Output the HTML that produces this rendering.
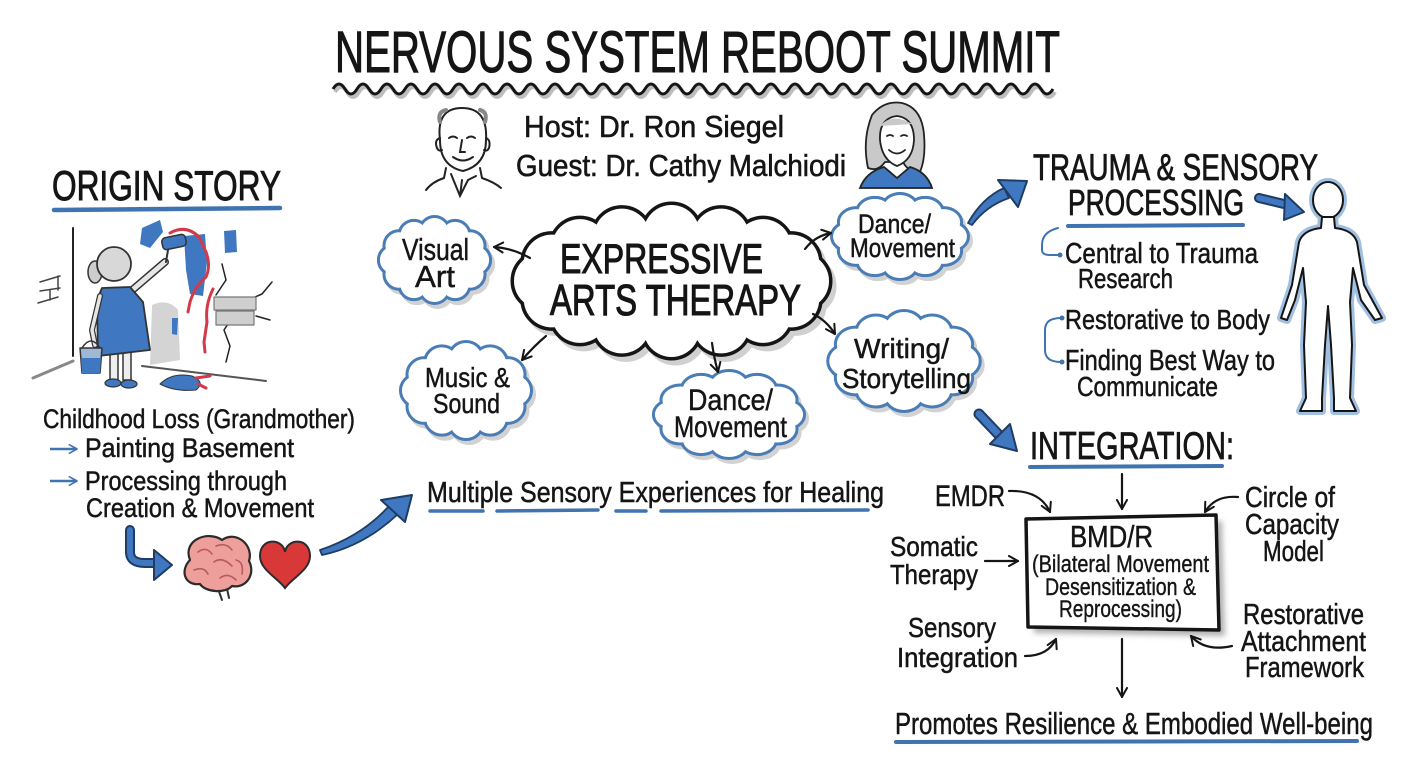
<!DOCTYPE html>
<html><head><meta charset="utf-8"><style>
html,body{margin:0;padding:0;background:#fff;}
svg{display:block;}
text{font-family:"Liberation Sans","DejaVu Sans",sans-serif;fill:#151515;}
</style></head><body>
<svg width="1408" height="768" viewBox="0 0 1408 768" xmlns="http://www.w3.org/2000/svg">
<defs>
<marker id="ah" viewBox="0 0 12 12" refX="10" refY="6" markerWidth="12" markerHeight="12" markerUnits="userSpaceOnUse" orient="auto"><path d="M1,1 L10,6 L1,11" fill="none" stroke="#151515" stroke-width="2" stroke-linecap="round" stroke-linejoin="round"/></marker>
<marker id="bh" viewBox="0 0 12 12" refX="10" refY="6" markerWidth="10" markerHeight="10" markerUnits="userSpaceOnUse" orient="auto"><path d="M1,1 L10,6 L1,11" fill="none" stroke="#3f74b0" stroke-width="2" stroke-linecap="round" stroke-linejoin="round"/></marker>
<filter id="bl" x="-10%" y="-10%" width="130%" height="130%"><feGaussianBlur stdDeviation="3"/></filter>
<g id="uc">
<circle vector-effect="non-scaling-stroke" cx="49" cy="0" r="16"/>
<circle vector-effect="non-scaling-stroke" cx="42.4" cy="17" r="16"/>
<circle vector-effect="non-scaling-stroke" cx="24.5" cy="29.4" r="16"/>
<circle vector-effect="non-scaling-stroke" cx="0" cy="34" r="16"/>
<circle vector-effect="non-scaling-stroke" cx="-24.5" cy="29.4" r="16"/>
<circle vector-effect="non-scaling-stroke" cx="-42.4" cy="17" r="16"/>
<circle vector-effect="non-scaling-stroke" cx="-49" cy="0" r="16"/>
<circle vector-effect="non-scaling-stroke" cx="-42.4" cy="-17" r="16"/>
<circle vector-effect="non-scaling-stroke" cx="-24.5" cy="-29.4" r="16"/>
<circle vector-effect="non-scaling-stroke" cx="0" cy="-34" r="16"/>
<circle vector-effect="non-scaling-stroke" cx="24.5" cy="-29.4" r="16"/>
<circle vector-effect="non-scaling-stroke" cx="42.4" cy="-17" r="16"/>
<ellipse vector-effect="non-scaling-stroke" rx="52" ry="38"/>
</g>
<g id="mc">
<circle cx="801" cy="281" r="28"/><circle cx="791.2" cy="299.4" r="28"/><circle cx="763.1" cy="314.9" r="28"/><circle cx="721.1" cy="325.4" r="28"/>
<circle cx="671.5" cy="329" r="28"/><circle cx="621.9" cy="325.4" r="28"/><circle cx="579.9" cy="314.9" r="28"/><circle cx="551.8" cy="299.4" r="28"/>
<circle cx="542" cy="281" r="28"/><circle cx="551.8" cy="262.6" r="28"/><circle cx="579.9" cy="247.1" r="28"/><circle cx="621.9" cy="236.6" r="28"/>
<circle cx="671.5" cy="233" r="28"/><circle cx="721.1" cy="236.6" r="28"/><circle cx="763.1" cy="247.1" r="28"/><circle cx="791.2" cy="262.6" r="28"/>
<ellipse cx="671.5" cy="281" rx="130" ry="50"/>
</g>
</defs>

<!-- Title -->
<text x="335" y="72" font-size="58" textLength="725" lengthAdjust="spacingAndGlyphs" stroke="#151515" stroke-width="1.1">NERVOUS SYSTEM REBOOT SUMMIT</text>
<path d="M335,92 q6,-10 12,0 t12,0 t12,0 t12,0 t12,0 t12,0 t12,0 t12,0 t12,0 t12,0 t12,0 t12,0 t12,0 t12,0 t12,0 t12,0 t12,0 t12,0 t12,0 t12,0 t12,0 t12,0 t12,0 t12,0 t12,0 t12,0 t12,0 t12,0 t12,0 t12,0 t12,0 t12,0 t12,0 t12,0 t12,0 t12,0 t12,0 t12,0 t12,0 t12,0 t12,0 t12,0 t12,0 t12,0 t12,0 t12,0 t12,0 t12,0 t12,0 t12,0 t12,0 t12,0 t12,0 t12,0 t12,0 t12,0 t12,0 t12,0 t12,0 t12,0" fill="none" stroke="#bdbdbd" stroke-width="4"/>
<path d="M333,89 q6,-10 12,0 t12,0 t12,0 t12,0 t12,0 t12,0 t12,0 t12,0 t12,0 t12,0 t12,0 t12,0 t12,0 t12,0 t12,0 t12,0 t12,0 t12,0 t12,0 t12,0 t12,0 t12,0 t12,0 t12,0 t12,0 t12,0 t12,0 t12,0 t12,0 t12,0 t12,0 t12,0 t12,0 t12,0 t12,0 t12,0 t12,0 t12,0 t12,0 t12,0 t12,0 t12,0 t12,0 t12,0 t12,0 t12,0 t12,0 t12,0 t12,0 t12,0 t12,0 t12,0 t12,0 t12,0 t12,0 t12,0 t12,0 t12,0 t12,0 t12,0" fill="none" stroke="#151515" stroke-width="3"/>

<!-- Man face -->
<g stroke="#222" stroke-width="2" fill="none" stroke-linecap="round">
<path d="M440,140 Q436,108 462,108 Q488,108 486,140 Q486,165 463,171 Q440,166 440,140 Z" fill="#fff"/>
<path d="M440,122 Q437,112 446,110" stroke="#888" stroke-width="4"/>
<path d="M485,122 Q488,112 480,110" stroke="#888" stroke-width="4"/>
<path d="M440,138 Q434,140 437,148 Q439,152 442,150"/>
<path d="M486,138 Q491,140 489,148 Q487,152 484,150"/>
<path d="M449,138 Q453,135 457,138 M467,138 Q471,135 475,138"/>
<path d="M462,140 L460,152 L465,152"/>
<path d="M453,157 Q463,164 473,157"/>
<path d="M446,168 L444,178 Q432,182 426,190 M480,168 L482,178 Q494,182 501,188"/>
<path d="M451,174 L460,196 L468,180 L476,176 M460,196 L462,180"/>
</g>

<!-- Woman face -->
<g stroke="#222" stroke-width="1.8" stroke-linecap="round">
<path d="M868,168 Q862,140 872,115 Q884,100 902,103 Q922,108 924,135 Q926,158 920,172 Q908,172 903,162 L885,162 Q878,172 868,168 Z" fill="#c9c9c9"/>
<path d="M880,140 Q879,118 897,116 Q914,118 914,140 Q913,160 897,166 Q882,160 880,140 Z" fill="#fff"/>
<path d="M880,126 Q892,112 912,124" fill="#c9c9c9" stroke="none"/>
<path d="M887,136 Q890,134 893,136 M901,136 Q904,134 907,136" fill="none"/>
<path d="M889,150 Q897,157 905,150" fill="none"/>
<path d="M860,188 Q866,172 884,167 L897,178 L910,167 Q927,172 932,188 Z" fill="#3f78c0"/>
</g>

<!-- Host / Guest -->
<text x="524" y="137" font-size="31" textLength="260" lengthAdjust="spacingAndGlyphs" stroke="#151515" stroke-width="0.6">Host: Dr. Ron Siegel</text>
<text x="516" y="176" font-size="31" textLength="330" lengthAdjust="spacingAndGlyphs" stroke="#151515" stroke-width="0.6">Guest: Dr. Cathy Malchiodi</text>

<!-- ORIGIN STORY -->
<text x="52" y="200" font-size="42" textLength="229" lengthAdjust="spacingAndGlyphs" stroke="#151515" stroke-width="0.9">ORIGIN STORY</text>
<path d="M54,210 L280,208" stroke="#3f74b0" stroke-width="4.5" stroke-linecap="round"/>

<!-- Girl illustration -->
<g stroke-linecap="round" stroke-linejoin="round">
<path d="M73,228 L73,356" stroke="#222" stroke-width="2"/>
<path d="M40,282 L60,276 M58,276 L58,290 M40,291 L60,288 M38,303 L58,297 M50,290 L50,300" stroke="#444" stroke-width="1.5" fill="none"/>
<path d="M33,378 L73,361" stroke="#888" stroke-width="3"/>
<path d="M142,366 L266,381" stroke="#555" stroke-width="2"/>
<path d="M152,305 Q168,298 178,310 L180,360 L150,365 Z" fill="#d4d4d4"/>
<path d="M142,228 L160,220 L163,232 L150,248 L140,244 Z" fill="#3f78c0"/>
<path d="M184,236 L205,234 L207,262 L203,296 L190,294 L186,270 Z" fill="#3f78c0"/>
<path d="M224,231 L236,230 L237,252 L225,253 Z" fill="#3f78c0"/>
<path d="M172,318 L178,318 L177,335 L172,334 Z" fill="#3f78c0"/>
<path d="M170,233 Q186,224 199,237 L206,252 Q211,266 206,277 L199,284 Q193,292 190,302 L188,312" fill="none" stroke="#d23a4a" stroke-width="3"/>
<path d="M213,289 Q205,305 207,322 L204,342 L205,352" fill="none" stroke="#d23a4a" stroke-width="3"/>
<path d="M222,264 L226,280 L216,295 M236,312 L224,330 L230,346 L226,362 M248,300 L262,294 L272,282 M256,316 L270,320" fill="none" stroke="#222" stroke-width="1.5"/>
<rect x="214" y="297" width="42" height="13" fill="#cfcfcf" stroke="#777" stroke-width="1.2"/>
<rect x="216" y="311" width="38" height="14" fill="#cfcfcf" stroke="#777" stroke-width="1.2"/>
<path d="M130,292 L165,262" stroke="#333" stroke-width="8"/>
<path d="M130,292 L165,262" stroke="#e6e6e6" stroke-width="5"/>
<path d="M166,262 L168,250" stroke="#333" stroke-width="2"/>
<rect x="162" y="236" width="24" height="12" rx="4" transform="rotate(-12 174 242)" fill="#3f78c0" stroke="#333" stroke-width="1.5"/>
<ellipse cx="95" cy="272" rx="7" ry="11" fill="#cdcdcd" stroke="#333" stroke-width="1.5"/>
<circle cx="114" cy="264" r="17" fill="#d8d8d8" stroke="#333" stroke-width="1.8"/>
<rect x="110" y="352" width="8" height="28" fill="#eee" stroke="#333" stroke-width="1.5"/>
<rect x="123" y="352" width="8" height="28" fill="#eee" stroke="#333" stroke-width="1.5"/>
<ellipse cx="113" cy="383" rx="8" ry="4" fill="#3f78c0" stroke="#333" stroke-width="1.2"/>
<ellipse cx="129" cy="384" rx="8" ry="4" fill="#3f78c0" stroke="#333" stroke-width="1.2"/>
<path d="M102,288 L130,287 L143,302 L150,350 L98,356 L97,300 Z" fill="#3f78c0" stroke="#333" stroke-width="1.8"/>
<path d="M100,296 L92,330 L95,345" fill="none" stroke="#333" stroke-width="6"/>
<path d="M100,296 L92,330 L95,345" fill="none" stroke="#e6e6e6" stroke-width="3.5"/>
<path d="M80,348 L102,348 L100,373 L82,373 Z" fill="#9fb8d6" stroke="#333" stroke-width="1.5"/>
<path d="M81,358 L101,358 L100,373 L82,373 Z" fill="#3f78c0"/>
<path d="M82,348 Q91,334 100,348" fill="none" stroke="#333" stroke-width="1.5"/>
<path d="M160,384 Q172,372 192,376 Q206,382 196,390 Q175,392 160,384 Z" fill="#3f78c0" stroke="#333" stroke-width="1"/>
<path d="M196,378 L210,376 M198,384 L206,388" stroke="#d23a4a" stroke-width="3"/>
</g>

<!-- Origin text -->
<text x="43" y="428" font-size="27" textLength="312" lengthAdjust="spacingAndGlyphs" stroke="#151515" stroke-width="0.5">Childhood Loss (Grandmother)</text>
<path d="M50,449 L77,449" stroke="#3f74b0" stroke-width="2.5" marker-end="url(#bh)"/>
<text x="85" y="457" font-size="27" textLength="209" lengthAdjust="spacingAndGlyphs" stroke="#151515" stroke-width="0.5">Painting Basement</text>
<path d="M50,481 L77,481" stroke="#3f74b0" stroke-width="2.5" marker-end="url(#bh)"/>
<text x="85" y="490" font-size="27" textLength="202" lengthAdjust="spacingAndGlyphs" stroke="#151515" stroke-width="0.5">Processing through</text>
<text x="86" y="517" font-size="27" textLength="228" lengthAdjust="spacingAndGlyphs" stroke="#151515" stroke-width="0.5">Creation &amp; Movement</text>

<!-- hooked blue arrow -->
<path d="M130,530 L130,552 Q130,563 145,563 L156,563" fill="none" stroke="#1f3c64" stroke-width="10" stroke-linecap="round"/>
<path d="M130,530 L130,552 Q130,563 145,563 L156,563" fill="none" stroke="#3f78c0" stroke-width="6" stroke-linecap="round"/>
<path d="M154,550 L172,565 L154,580 Z" fill="#3f78c0" stroke="#1f3c64" stroke-width="2" stroke-linejoin="round"/>

<!-- Brain -->
<g stroke-linecap="round" stroke-linejoin="round">
<path d="M217,586 L222,600 M226,584 L229,598" stroke="#333" stroke-width="2"/>
<path d="M190,560 C182,540 208,530 222,540 C236,530 254,545 249,561 C256,574 246,589 232,586 C225,594 205,592 200,584 C184,586 180,570 190,560 Z" fill="#ee9f9b" stroke="#2b2b2b" stroke-width="2.2"/>
<path d="M198,552 Q206,546 212,554 M216,546 Q226,542 232,550 M194,570 Q204,566 208,574 M214,562 Q222,556 232,566 M236,560 Q244,562 242,574 M220,578 Q228,572 236,580" fill="none" stroke="#b75b5b" stroke-width="1.6"/>
</g>
<!-- Heart -->
<path d="M285,552 C283,538 260,537 260,556 C260,570 278,578 285,588 C292,578 310,570 310,556 C310,537 287,538 285,552 Z" fill="#d93838" stroke="#2b2b2b" stroke-width="2"/>

<!-- blue arrow heart -> multiple -->
<path d="M320,550 Q362,536 389,506 L398,514 Q364,546 322,555 Z" fill="#3f78c0" stroke="#1f3c64" stroke-width="1.8" stroke-linejoin="round"/>
<path d="M381,500 L412,495 L405,522 Z" fill="#3f78c0" stroke="#1f3c64" stroke-width="2" stroke-linejoin="round"/>

<!-- Multiple Sensory text -->
<text x="427" y="502" font-size="29" textLength="457" lengthAdjust="spacingAndGlyphs" stroke="#151515" stroke-width="0.5">Multiple Sensory Experiences for Healing</text>
<g stroke="#3f74b0" stroke-width="3.5" stroke-linecap="round">
<path d="M430,511 L483,511 M497,511 L598,510 M616,511 L646,511 M661,511 L868,510"/>
</g>

<!-- Clouds -->
<use href="#mc" transform="translate(4,5)" fill="#d0d0d0" stroke="#d0d0d0" stroke-width="7"/>
<use href="#mc" fill="#fff" stroke="#151515" stroke-width="7"/>
<use href="#mc" fill="#fff" stroke="none"/>

<use href="#uc" transform="translate(437.5,264) scale(0.84,0.84)" fill="#d2d2d2" stroke="#d2d2d2" stroke-width="6"/>
<use href="#uc" transform="translate(434.5,260) scale(0.84,0.84)" fill="#fff" stroke="#4a7db6" stroke-width="6"/>
<use href="#uc" transform="translate(434.5,260) scale(0.84,0.84)" fill="#fff" stroke="none"/>

<use href="#uc" transform="translate(903,240.5) scale(1.03,0.83)" fill="#d2d2d2" stroke="#d2d2d2" stroke-width="6"/>
<use href="#uc" transform="translate(900,236.5) scale(1.03,0.83)" fill="#fff" stroke="#4a7db6" stroke-width="6"/>
<use href="#uc" transform="translate(900,236.5) scale(1.03,0.83)" fill="#fff" stroke="none"/>

<use href="#uc" transform="translate(907,365) scale(1.15,0.98)" fill="#d2d2d2" stroke="#d2d2d2" stroke-width="6"/>
<use href="#uc" transform="translate(904,361) scale(1.15,0.98)" fill="#fff" stroke="#4a7db6" stroke-width="6"/>
<use href="#uc" transform="translate(904,361) scale(1.15,0.98)" fill="#fff" stroke="none"/>

<use href="#uc" transform="translate(469,394.5) scale(0.985,0.95)" fill="#d2d2d2" stroke="#d2d2d2" stroke-width="6"/>
<use href="#uc" transform="translate(466,390.5) scale(0.985,0.95)" fill="#fff" stroke="#4a7db6" stroke-width="6"/>
<use href="#uc" transform="translate(466,390.5) scale(0.985,0.95)" fill="#fff" stroke="none"/>

<use href="#uc" transform="translate(732,418.5) scale(1.14,0.85)" fill="#d2d2d2" stroke="#d2d2d2" stroke-width="6"/>
<use href="#uc" transform="translate(729,414.5) scale(1.14,0.85)" fill="#fff" stroke="#4a7db6" stroke-width="6"/>
<use href="#uc" transform="translate(729,414.5) scale(1.14,0.85)" fill="#fff" stroke="none"/>

<!-- Cloud texts -->
<text x="560" y="273" font-size="42" textLength="203" lengthAdjust="spacingAndGlyphs" stroke="#151515" stroke-width="1.1">EXPRESSIVE</text>
<text x="550" y="315" font-size="44" textLength="251" lengthAdjust="spacingAndGlyphs" stroke="#151515" stroke-width="1.1">ARTS THERAPY</text>
<text x="402" y="260" font-size="31" textLength="67" lengthAdjust="spacingAndGlyphs" stroke="#151515" stroke-width="0.5">Visual</text>
<text x="415" y="287" font-size="31" textLength="40" lengthAdjust="spacingAndGlyphs" stroke="#151515" stroke-width="0.5">Art</text>
<text x="858" y="233" font-size="27" textLength="73" lengthAdjust="spacingAndGlyphs" stroke="#151515" stroke-width="0.5">Dance/</text>
<text x="850" y="257" font-size="27" textLength="105" lengthAdjust="spacingAndGlyphs" stroke="#151515" stroke-width="0.5">Movement</text>
<text x="854" y="358" font-size="28" textLength="95" lengthAdjust="spacingAndGlyphs" stroke="#151515" stroke-width="0.5">Writing/</text>
<text x="842" y="388" font-size="28" textLength="129" lengthAdjust="spacingAndGlyphs" stroke="#151515" stroke-width="0.5">Storytelling</text>
<text x="425" y="387" font-size="28" textLength="85" lengthAdjust="spacingAndGlyphs" stroke="#151515" stroke-width="0.5">Music &amp;</text>
<text x="433" y="413" font-size="28" textLength="67" lengthAdjust="spacingAndGlyphs" stroke="#151515" stroke-width="0.5">Sound</text>
<text x="688" y="410" font-size="30" textLength="85" lengthAdjust="spacingAndGlyphs" stroke="#151515" stroke-width="0.5">Dance/</text>
<text x="674" y="437" font-size="30" textLength="113" lengthAdjust="spacingAndGlyphs" stroke="#151515" stroke-width="0.5">Movement</text>

<!-- black arrows from main cloud -->
<g fill="none" stroke="#151515" stroke-width="2.2" stroke-linecap="round" marker-end="url(#ah)">
<path d="M530,258 Q512,248 494,247"/>
<path d="M546,336 Q534,346 522,360"/>
<path d="M712,343 Q714,358 718,372"/>
<path d="M805,249 Q815,236 831,233"/>
<path d="M813,314 Q826,320 835,334"/>
</g>

<!-- blue arrow to TRAUMA -->
<path d="M968,223 Q982,198 1004,188 L1009,198 Q986,206 972,225 Z" fill="#3f78c0" stroke="#1f3c64" stroke-width="1.8" stroke-linejoin="round"/>
<path d="M998,180 L1027,181 L1018,207 Z" fill="#3f78c0" stroke="#1f3c64" stroke-width="2" stroke-linejoin="round"/>

<!-- TRAUMA section -->
<text x="1033" y="180" font-size="37" textLength="285" lengthAdjust="spacingAndGlyphs" stroke="#151515" stroke-width="0.8">TRAUMA &amp; SENSORY</text>
<text x="1068" y="215" font-size="36" textLength="176" lengthAdjust="spacingAndGlyphs" stroke="#151515" stroke-width="0.8">PROCESSING</text>
<path d="M1068,226 L1243,225" stroke="#3f74b0" stroke-width="4" stroke-linecap="round"/>
<path d="M1259,198 L1288,205" stroke="#1f3c64" stroke-width="10" stroke-linecap="round"/>
<path d="M1259,198 L1288,205" stroke="#3f78c0" stroke-width="6" stroke-linecap="round"/>
<path d="M1285,194 L1304,212 L1284,220 Z" fill="#3f78c0" stroke="#1f3c64" stroke-width="2" stroke-linejoin="round"/>

<g fill="none" stroke="#3f74b0" stroke-width="2" stroke-linecap="round">
<path d="M1058,228 Q1042,232 1042,245 L1042,250 Q1042,255 1050,255 L1058,255"/>
<path d="M1061,318 Q1045,318 1045,330 L1045,350 Q1045,362 1061,362"/>
</g>
<circle cx="1060" cy="255" r="2.5" fill="#3f74b0"/>
<circle cx="1062" cy="318" r="2.5" fill="#3f74b0"/>
<circle cx="1062" cy="362" r="2.5" fill="#3f74b0"/>
<text x="1065" y="263" font-size="29" textLength="193" lengthAdjust="spacingAndGlyphs" stroke="#151515" stroke-width="0.5">Central to Trauma</text>
<text x="1078" y="288" font-size="28" textLength="95" lengthAdjust="spacingAndGlyphs" stroke="#151515" stroke-width="0.5">Research</text>
<text x="1065" y="329" font-size="28" textLength="205" lengthAdjust="spacingAndGlyphs" stroke="#151515" stroke-width="0.5">Restorative to Body</text>
<text x="1065" y="370" font-size="29" textLength="210" lengthAdjust="spacingAndGlyphs" stroke="#151515" stroke-width="0.5">Finding Best Way to</text>
<text x="1077" y="396" font-size="28" textLength="141" lengthAdjust="spacingAndGlyphs" stroke="#151515" stroke-width="0.5">Communicate</text>

<!-- Human figure -->
<g stroke-linejoin="round">
<g stroke="#8fb4dc" stroke-width="8" fill="none" opacity="0.85">
<ellipse cx="1328" cy="200" rx="15" ry="18"/>
<path d="M1322,217 L1321,228 Q1303,230 1299,242 L1292,285 L1281,318 L1287,320 L1295,300 L1303,268 L1306,302 L1304,345 L1306,398 L1300,411 L1322,411 L1322,398 L1325,345 L1328,306 L1331,345 L1334,398 L1334,411 L1356,411 L1350,398 L1352,345 L1350,302 L1353,268 L1361,300 L1375,320 L1382,318 L1364,285 L1357,242 Q1353,230 1335,228 L1334,217 Z"/>
</g>
<ellipse cx="1328" cy="200" rx="15" ry="18" fill="#fff" stroke="#151515" stroke-width="2"/>
<path d="M1322,217 L1321,228 Q1303,230 1299,242 L1292,285 L1281,318 L1287,320 L1295,300 L1303,268 L1306,302 L1304,345 L1306,398 L1300,411 L1322,411 L1322,398 L1325,345 L1328,306 L1331,345 L1334,398 L1334,411 L1356,411 L1350,398 L1352,345 L1350,302 L1353,268 L1361,300 L1375,320 L1382,318 L1364,285 L1357,242 Q1353,230 1335,228 L1334,217 Z" fill="#fff" stroke="#151515" stroke-width="2"/>
</g>

<!-- blue arrow to INTEGRATION -->
<path d="M979,414 L998,434" stroke="#1f3c64" stroke-width="11" stroke-linecap="round"/>
<path d="M979,414 L998,434" stroke="#3f78c0" stroke-width="7" stroke-linecap="round"/>
<path d="M1010,424 L1017,451 L990,444 Z" fill="#3f78c0" stroke="#1f3c64" stroke-width="2" stroke-linejoin="round"/>

<!-- INTEGRATION -->
<text x="1030" y="459" font-size="39" textLength="204" lengthAdjust="spacingAndGlyphs" stroke="#151515" stroke-width="0.8">INTEGRATION:</text>
<path d="M1030,467 L1222,466" stroke="#3f74b0" stroke-width="4" stroke-linecap="round"/>

<!-- BMD/R box -->
<path d="M1032,525 L1222,521 L1225,636 L1034,633 Z" fill="#b0b0b0" filter="url(#bl)"/>
<path d="M1026,519 L1216,515 L1219,630 L1028,627 Z" fill="#fff" stroke="#151515" stroke-width="3.5" stroke-linejoin="round"/>
<text x="1070" y="547" font-size="31" textLength="83" lengthAdjust="spacingAndGlyphs" stroke="#151515" stroke-width="0.5">BMD/R</text>
<text x="1032" y="572" font-size="24" textLength="177" lengthAdjust="spacingAndGlyphs" stroke="#151515" stroke-width="0.4">(Bilateral Movement</text>
<text x="1045" y="595" font-size="24" textLength="151" lengthAdjust="spacingAndGlyphs" stroke="#151515" stroke-width="0.4">Desensitization &amp;</text>
<text x="1059" y="617" font-size="24" textLength="123" lengthAdjust="spacingAndGlyphs" stroke="#151515" stroke-width="0.4">Reprocessing)</text>

<!-- Integration labels -->
<text x="935" y="506" font-size="30" textLength="70" lengthAdjust="spacingAndGlyphs" stroke="#151515" stroke-width="0.5">EMDR</text>
<text x="1245" y="507" font-size="29" textLength="90" lengthAdjust="spacingAndGlyphs" stroke="#151515" stroke-width="0.5">Circle of</text>
<text x="1245" y="534" font-size="29" textLength="94" lengthAdjust="spacingAndGlyphs" stroke="#151515" stroke-width="0.5">Capacity</text>
<text x="1263" y="561" font-size="29" textLength="61" lengthAdjust="spacingAndGlyphs" stroke="#151515" stroke-width="0.5">Model</text>
<text x="890" y="556" font-size="28" textLength="88" lengthAdjust="spacingAndGlyphs" stroke="#151515" stroke-width="0.5">Somatic</text>
<text x="890" y="584" font-size="28" textLength="88" lengthAdjust="spacingAndGlyphs" stroke="#151515" stroke-width="0.5">Therapy</text>
<text x="908" y="637" font-size="28" textLength="88" lengthAdjust="spacingAndGlyphs" stroke="#151515" stroke-width="0.5">Sensory</text>
<text x="897" y="667" font-size="28" textLength="121" lengthAdjust="spacingAndGlyphs" stroke="#151515" stroke-width="0.5">Integration</text>
<text x="1243" y="624" font-size="29" textLength="121" lengthAdjust="spacingAndGlyphs" stroke="#151515" stroke-width="0.5">Restorative</text>
<text x="1241" y="651" font-size="29" textLength="125" lengthAdjust="spacingAndGlyphs" stroke="#151515" stroke-width="0.5">Attachment</text>
<text x="1245" y="677" font-size="29" textLength="119" lengthAdjust="spacingAndGlyphs" stroke="#151515" stroke-width="0.5">Framework</text>

<g fill="none" stroke="#151515" stroke-width="2.2" stroke-linecap="round" marker-end="url(#ah)">
<path d="M1122,474 L1122,509"/>
<path d="M1009,491 Q1040,490 1050,512"/>
<path d="M1238,497 Q1215,495 1205,512"/>
<path d="M985,561 L1018,561"/>
<path d="M1025,656 Q1048,656 1056,639"/>
<path d="M1232,646 Q1205,652 1191,636"/>
<path d="M1122,639 L1122,697"/>
</g>

<!-- Promotes -->
<text x="895" y="734" font-size="31" textLength="478" lengthAdjust="spacingAndGlyphs" stroke="#151515" stroke-width="0.5">Promotes Resilience &amp; Embodied Well-being</text>
<path d="M896,742 L1357,741" stroke="#3f74b0" stroke-width="4" stroke-linecap="round"/>
</svg>
</body></html>
